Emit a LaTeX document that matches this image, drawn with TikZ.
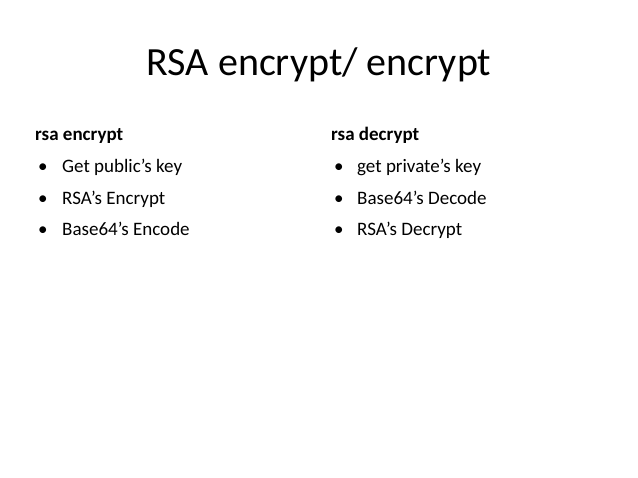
\documentclass[tikz,border=0pt]{standalone}
\usepackage{fontspec}
\setmainfont{Carlito}
\begin{document}
\begin{tikzpicture}[x=1pt,y=-1pt,
  txt/.style={anchor=base west,inner sep=0pt,font=\fontsize{19}{22}\selectfont},
  hd/.style={txt,font=\fontsize{19}{22}\selectfont\bfseries}]
\useasboundingbox[fill=white] (0,0) rectangle (638,478);
\node[anchor=base,inner sep=0pt,font=\fontsize{40}{48}\selectfont] (title) at (319,76) {RSA encrypt/ encrypt};
\node[hd] (h1) at (35,141) {rsa encrypt};
\node[txt] (b1) at (38,173) {•};
\node[txt] (t1) at (62,173) {Get public’s key};
\node[txt] (b2) at (38,205) {•};
\node[txt] (t2) at (62,205) {RSA’s Encrypt};
\node[txt] (b3) at (38,236) {•};
\node[txt] (t3) at (62,236) {Base64’s Encode};
\node[hd] (h2) at (331,141) {rsa decrypt};
\node[txt] (c1) at (334,173) {•};
\node[txt] (u1) at (357,173) {get private’s key};
\node[txt] (c2) at (334,205) {•};
\node[txt] (u2) at (357,205) {Base64’s Decode};
\node[txt] (c3) at (334,236) {•};
\node[txt] (u3) at (357,236) {RSA’s Decrypt};
\end{tikzpicture}
\end{document}
